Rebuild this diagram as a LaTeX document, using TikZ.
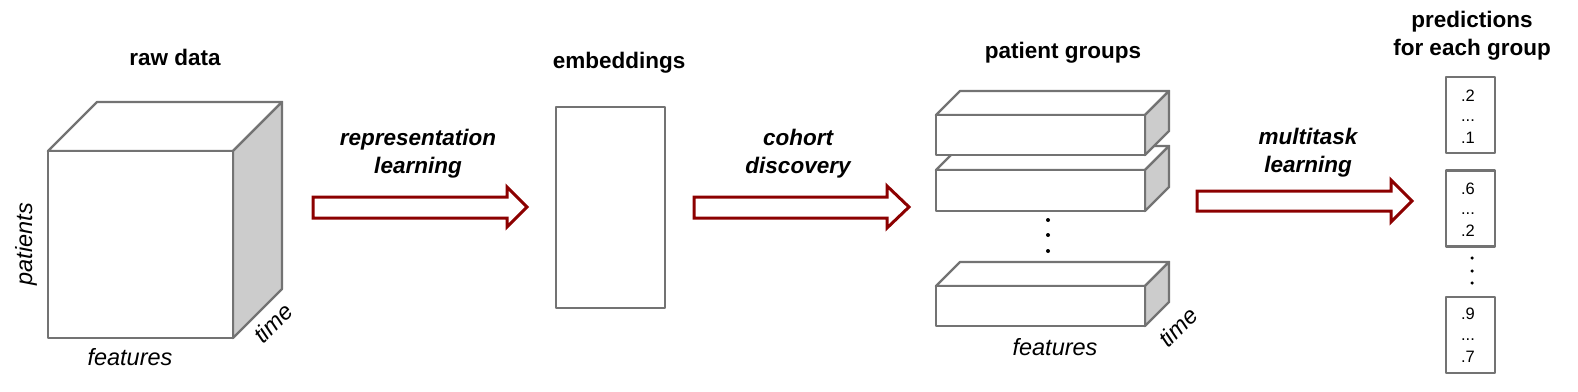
\documentclass[tikz,border=0pt]{standalone}
\usepackage{fontspec}
\setmainfont{Liberation Sans}
\begin{document}
\begin{tikzpicture}[x=1pt,y=-1pt,
  edge/.style={draw=black!55,line width=2.4pt,line join=round},
  sideface/.style={edge,fill=black!20},
  frontface/.style={edge,fill=white},
  bigarrow/.style={draw=red!55!black,line width=3pt,fill=white,line join=miter},
  title/.style={font=\fontsize{22.5}{28}\selectfont\bfseries,align=center,inner sep=0pt},
  steplabel/.style={font=\fontsize{22.5}{28}\selectfont\bfseries\itshape,align=center,inner sep=0pt},
  axislabel/.style={font=\fontsize{23.5}{26}\selectfont\itshape,inner sep=0pt},
  valbox/.style={edge,minimum width=49pt,minimum height=76pt,inner sep=0pt},
  val/.style={font=\fontsize{16.5}{18}\selectfont,inner sep=0pt,anchor=base},
  dot/.style={circle,fill=black,inner sep=0pt,minimum size=4pt}]
\useasboundingbox (0,0) rectangle (1578,391);

% ---------- raw data cube ----------
\node[title] (rawt) at (175,57) {raw data};
\draw[frontface] (48,151) -- (97,102) -- (282,102) -- (233,151) -- cycle;
\draw[sideface] (233,151) -- (282,102) -- (282,289) -- (233,338) -- cycle;
\draw[frontface] (48,151) rectangle (233,338);
\node[axislabel,rotate=90] (pat) at (26,244) {patients};
\node[axislabel] (feat1) at (130,357) {features};
\node[axislabel,rotate=45] (time1) at (273,323) {time};

% ---------- arrow 1 ----------
\node[steplabel] (l1) at (418,154) {representation\\learning};
\draw[bigarrow] (313,197) -- (507,197) -- (507,187) -- (527,207) -- (507,227) -- (507,218) -- (313,218) -- cycle;

% ---------- embeddings ----------
\node[title] (embt) at (619,63) {embeddings};
\node[edge,minimum width=109pt,minimum height=201pt,inner sep=0pt] (emb) at (610.5,207.5) {};

% ---------- arrow 2 ----------
\node[steplabel] (l2) at (798,154) {cohort\\discovery};
\draw[bigarrow] (694,197) -- (887,197) -- (887,186) -- (909,207) -- (887,228) -- (887,218) -- (694,218) -- cycle;

% ---------- patient groups ----------
\node[title] (pgt) at (1063,53) {patient groups};
% slab 3
\draw[frontface] (936,286) -- (960,262) -- (1169,262) -- (1145,286) -- cycle;
\draw[sideface] (1145,286) -- (1169,262) -- (1169,302) -- (1145,326) -- cycle;
\draw[frontface] (936,286) rectangle (1145,326);
% slab 2
\draw[frontface] (936,170) -- (960,146) -- (1169,146) -- (1145,170) -- cycle;
\draw[sideface] (1145,170) -- (1169,146) -- (1169,187) -- (1145,211) -- cycle;
\draw[frontface] (936,170) rectangle (1145,211);
% slab 1
\draw[frontface] (936,115) -- (960,91) -- (1169,91) -- (1145,115) -- cycle;
\draw[sideface] (1145,115) -- (1169,91) -- (1169,131) -- (1145,155) -- cycle;
\draw[frontface] (936,115) rectangle (1145,155);
\node[dot] (d1) at (1048,220) {};
\node[dot] (d2) at (1048,235) {};
\node[dot] (d3) at (1048,251) {};
\node[axislabel] (feat2) at (1055,347) {features};
\node[axislabel,rotate=45] (time2) at (1178,327) {time};

% ---------- arrow 3 ----------
\node[steplabel] (l3) at (1308,153) {multitask\\learning};
\draw[bigarrow] (1197,191) -- (1391,191) -- (1391,180) -- (1412,201) -- (1391,222) -- (1391,211) -- (1197,211) -- cycle;

% ---------- predictions ----------
\node[title] (prt) at (1472,36) {predictions\\for each group};
\node[valbox] (b1) at (1470.5,115) {};
\node[valbox] (b2) at (1470.5,208.5) {};
\node[valbox] (b3) at (1470.5,335) {};
\node[val] (v11) at (1468,101.5) {.2};
\node[val] (v12) at (1468,121) {...};
\node[val] (v13) at (1468,143) {.1};
\node[val] (v21) at (1468,194.5) {.6};
\node[val] (v22) at (1468,214) {...};
\node[val] (v23) at (1468,236) {.2};
\node[val] (v31) at (1468,319.5) {.9};
\node[val] (v32) at (1468,340) {...};
\node[val] (v33) at (1468,362) {.7};
\node[dot,minimum size=3.5pt] (e1) at (1472,258) {};
\node[dot,minimum size=3.5pt] (e2) at (1472,271) {};
\node[dot,minimum size=3.5pt] (e3) at (1472,283) {};
\end{tikzpicture}
\end{document}
